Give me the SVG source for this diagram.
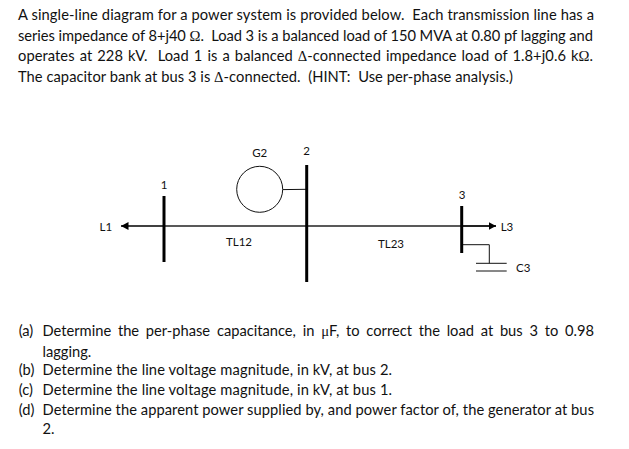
<svg xmlns="http://www.w3.org/2000/svg" width="629" height="449" viewBox="0 0 629 449">
<style>
.t{font-family:"Lato","Carlito","Open Sans",sans-serif;font-size:14.7px;fill:#111;white-space:pre}
.s{font-family:"Liberation Serif",serif}
.l{font-family:"Lato","Open Sans",sans-serif;font-size:11.5px;fill:#111}
.c{text-anchor:middle}
.bus{stroke:#000;stroke-width:3;fill:none}
.thin{stroke:#111;stroke-width:1;fill:none}
.line{stroke:#222;stroke-width:1.3;fill:none}
</style>
<defs>
<marker id="arrow" markerUnits="userSpaceOnUse" markerWidth="8" markerHeight="8" refX="7.5" refY="4" orient="auto"><path d="M0 0L7.5 4L0 8Z" fill="#000"/></marker>
</defs>
<rect width="629" height="449" fill="#fff"/>
<g id="question">
<text class="t" x="18" y="20" textLength="576">A single-line diagram for a power system is provided below.  Each transmission line has a</text>
<text class="t" x="18" y="40.7" textLength="575">series impedance of 8+j40 <tspan class="s">Ω</tspan>.  Load 3 is a balanced load of 150 MVA at 0.80 pf lagging and</text>
<text class="t" x="18" y="61" textLength="575" word-spacing="1.2">operates at 228 kV.  Load 1 is a balanced <tspan class="s">Δ</tspan>-connected impedance load of 1.8+j0.6 k<tspan class="s">Ω</tspan>.</text>
<text class="t" x="18" y="81.7" textLength="495">The capacitor bank at bus 3 is <tspan class="s">Δ</tspan>-connected.  (HINT:  Use per-phase analysis.)</text>
</g>
<g id="connectors">
<path class="line" d="M164 226H306.7"/>
<path class="line" d="M306.7 226H461.7"/>
<path class="thin" d="M283 189.6L306.7 189.3"/>
<path d="M164 226H121" stroke="#000" stroke-width="1.6" fill="none" marker-end="url(#arrow)"/>
<path d="M461.7 226H496" stroke="#222" stroke-width="1.8" fill="none" marker-end="url(#arrow)"/>
<path class="thin" d="M461.7 244.7H489.3V263.3"/>
</g>
<g id="bus1"><path class="bus" d="M164 196V262"/><text class="l c" x="164" y="189">1</text></g>
<g id="bus2"><path class="bus" d="M306.7 165V282"/><text class="l c" x="306.5" y="154.7">2</text></g>
<g id="bus3"><path class="bus" d="M461.7 206V253"/><text class="l c" x="462" y="199">3</text></g>
<g id="G2"><circle cx="259.7" cy="189.3" r="23" fill="#fff" stroke="#111" stroke-width="1"/><text class="l c" x="259.7" y="157">G2</text></g>
<g id="L1"><text class="l" x="99.5" y="231">L1</text></g>
<g id="L3"><text class="l" x="500.7" y="230.7">L3</text></g>
<g id="C3"><path class="thin" d="M476 263.3H506.7M476 271H506.7"/><text class="l" x="516" y="271.7">C3</text></g>
<g id="TL12"><text class="l c" x="239" y="246">TL12</text></g>
<g id="TL23"><text class="l c" x="391" y="247.7">TL23</text></g>
<g id="parts">
<text class="t" x="18.7" y="335.7">(a)</text>
<text class="t" x="42.5" y="335.7" textLength="551.5" word-spacing="3">Determine the per-phase capacitance, in <tspan class="s">μ</tspan>F, to correct the load at bus 3 to 0.98</text>
<text class="t" x="42.5" y="356.7">lagging.</text>
<text class="t" x="18.7" y="375.3">(b)</text>
<text class="t" x="42.5" y="375.3" textLength="349.5">Determine the line voltage magnitude, in kV, at bus 2.</text>
<text class="t" x="18.7" y="395.3">(c)</text>
<text class="t" x="42.5" y="395.3" textLength="349.5">Determine the line voltage magnitude, in kV, at bus 1.</text>
<text class="t" x="18.7" y="415">(d)</text>
<text class="t" x="42.5" y="415" textLength="551.5">Determine the apparent power supplied by, and power factor of, the generator at bus</text>
<text class="t" x="42.5" y="434">2.</text>
</g>
</svg>
